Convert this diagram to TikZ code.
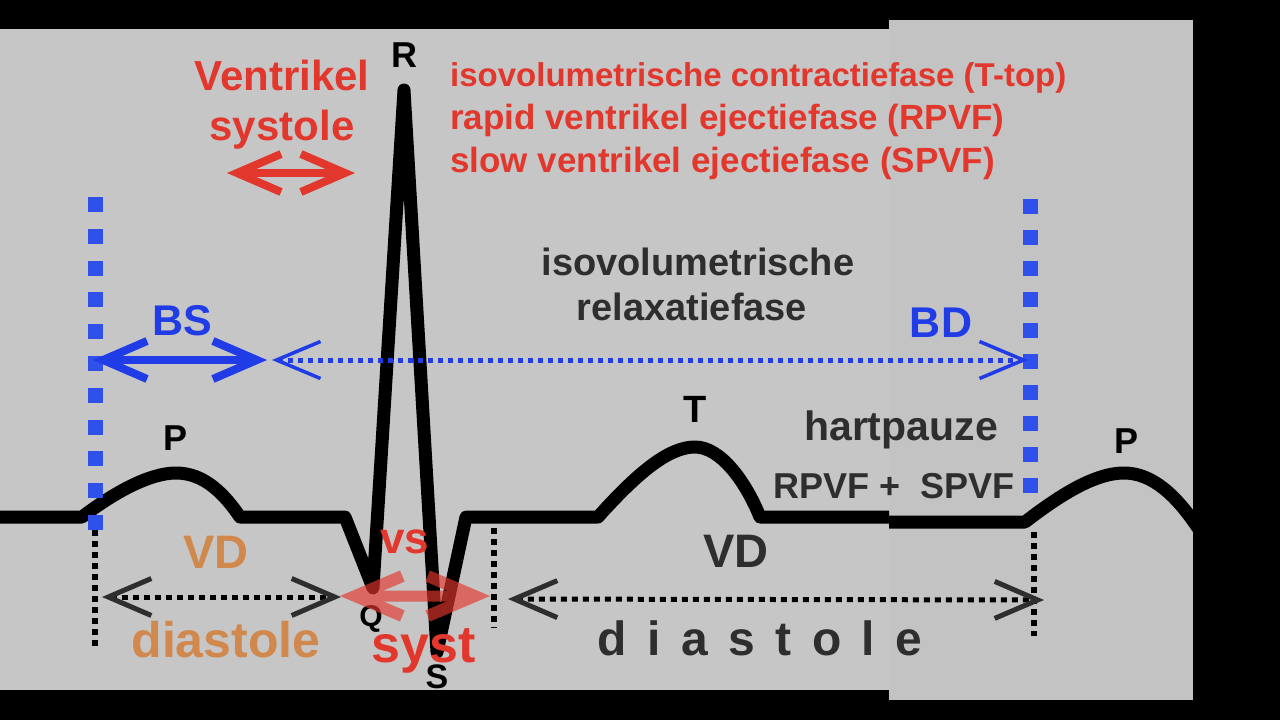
\documentclass[tikz,border=0pt]{standalone}
\usepackage{fontspec}
\setmainfont{Liberation Sans}
\usetikzlibrary{arrows.meta}
\definecolor{bggray}{HTML}{C6C6C6}
\definecolor{bggrayr}{HTML}{C3C3C3}
\definecolor{ecgred}{HTML}{E2372C}
\definecolor{ecgblue}{HTML}{1F3CE6}
\definecolor{dotblue}{HTML}{3050EC}
\definecolor{darktext}{HTML}{2E2E2E}
\definecolor{vdorange}{HTML}{D0884C}
\newcommand{\fsz}[1]{\fontsize{#1}{#1}\selectfont}

\begin{document}
\begin{tikzpicture}[x=1pt,y=-1pt,
	lbl/.style={anchor=base,inner sep=0pt,font=\bfseries\fsz{#1}},
	trace/.style={line width=13pt,line join=round},
	bigbarb/.tip={Straight Barb[sharp,length=44pt,width=38pt,line width=8pt]},
	thinbarb/.tip={Straight Barb[sharp,length=44pt,width=37pt,line width=3.5pt]},
	dotbarb/.tip={Straight Barb[sharp,length=43pt,width=37pt,line width=5pt,color=darktext]},
	sybarb/.tip={Straight Barb[sharp,length=47pt,width=40pt,line width=12pt]}]
	\useasboundingbox (0,0) rectangle (1280,720);
	\fill[black] (0,0) rectangle (1280,720);
	\fill[bggray] (0,29) rectangle (889,690);
	\fill[bggrayr] (889,20) rectangle (1193,700);

	\coordinate (p0) at (0,517);
	\coordinate (p1) at (82,517);
	\coordinate (Ptop) at (176,473);
	\coordinate (p2) at (240,517);
	\coordinate (q0) at (345,517);
	\coordinate (Qpt) at (373,588);
	\coordinate (Rpt) at (404,90);
	\coordinate (Spt) at (437,652);
	\coordinate (s0) at (466,517);
	\coordinate (t0) at (598,517);
	\coordinate (Ttop) at (695,447);
	\coordinate (t1) at (760,517);
	\coordinate (e0) at (889,517);
	\draw [trace] (p0) -- (p1) .. controls (115,492) and (150,473) .. (Ptop)
		.. controls (205,473) and (225,495) .. (p2) -- (q0) -- (Qpt) -- (Rpt) -- (Spt) -- (s0) -- (t0)
		.. controls (640,470) and (670,447) .. (Ttop) .. controls (720,447) and (745,480) .. (t1) -- (e0);
	\begin{scope}
		\clip (889,20) rectangle (1193,700);
		\coordinate (e1) at (889,522);
		\coordinate (p3) at (1025,522);
		\coordinate (P2top) at (1124,473);
		\coordinate (p4) at (1198,528);
		\draw [trace] (e1) -- (p3) .. controls (1060,495) and (1095,473) .. (P2top)
			.. controls (1152,473) and (1176,495) .. (p4);
	\end{scope}

	\node[lbl=42,ecgred] (vent) at (282,90) {Ventrikel};
	\node[lbl=42,ecgred] (syso) at (282,140) {systole};
	\node[lbl=36] (R) at (404,67) {R};
	\node[lbl=33,ecgred,anchor=base west] (iso) at (450,86) {isovolumetrische contractiefase (T-top)};
	\node[lbl=35,ecgred,anchor=base west] (rpvf) at (450,129) {rapid ventrikel ejectiefase (RPVF)};
	\node[lbl=35,ecgred,anchor=base west] (spvf) at (450,172) {slow ventrikel ejectiefase (SPVF)};
	\node[lbl=38,darktext] (isor) at (698,275) {isovolumetrische};
	\node[lbl=38,darktext] (relax) at (692,320) {relaxatiefase};
	\node[lbl=43,ecgblue] (BS) at (182,335) {BS};
	\node[lbl=43,ecgblue] (BD) at (941,337) {BD};
	\node[lbl=36] (P) at (176,450) {P};
	\node[lbl=38] (T) at (695,422) {T};
	\node[lbl=36] (P2) at (1126,453) {P};
	\node[lbl=41,darktext] (pauze) at (901,440) {hartpauze};
	\node[lbl=36,darktext] (ejec) at (894,498) {RPVF + \ SPVF};
	\node[lbl=47,vdorange] (VD1) at (216,568) {VD};
	\node[lbl=50,vdorange] (dia1) at (226,657) {diastole};
	\node[lbl=47,darktext] (VD2) at (736,567) {VD};
	\node[lbl=48,darktext] (dia2) at (760,655) {\spaceskip=20.5pt\relax d i a s t o l e};
	\node[lbl=30] (Q) at (371,626) {Q};
	\node[lbl=34] (S) at (437,688) {S};

	\coordinate (vsL) at (227,173);
	\coordinate (vsR) at (355,173);
	\draw [ecgred,line width=8pt,bigbarb-bigbarb] (vsL) -- (vsR);
	\coordinate (bsT) at (95,197);
	\coordinate (bsB) at (95,532);
	\draw [dotblue,line width=15pt,dash pattern=on 15pt off 16.8pt] (bsT) -- (bsB);
	\coordinate (bdT) at (1030,199);
	\coordinate (bdB) at (1030,494);
	\draw [dotblue,line width=15pt,dash pattern=on 15pt off 16pt] (bdT) -- (bdB);
	\coordinate (bsL) at (93,360);
	\coordinate (bsR) at (267,360);
	\draw [ecgblue,line width=8pt,bigbarb-bigbarb] (bsL) -- (bsR);
	\coordinate (bdL) at (272,360);
	\coordinate (bdR) at (1028,360);
	\draw [ecgblue,line width=5pt,dash pattern=on 5pt off 5pt,thinbarb-thinbarb] (bdL) -- (bdR);

	\coordinate (d1T) at (95,530);
	\coordinate (d1B) at (95,650);
	\coordinate (d2T) at (494,528);
	\coordinate (d2B) at (494,628);
	\coordinate (d3T) at (1034,532);
	\coordinate (d3B) at (1034,636);
	\draw [line width=6pt,dash pattern=on 6pt off 5pt] (d1T) -- (d1B);
	\draw [line width=6pt,dash pattern=on 6pt off 5pt] (d2T) -- (d2B);
	\draw [line width=6pt,dash pattern=on 6pt off 5pt] (d3T) -- (d3B);
	\coordinate (vdL) at (102,597);
	\coordinate (vdR) at (341,597);
	\draw [line width=5pt,dash pattern=on 6pt off 5pt,dotbarb-dotbarb] (vdL) -- (vdR);
	\coordinate (diaL) at (508,599);
	\coordinate (diaR) at (1044,600);
	\draw [line width=5pt,dash pattern=on 6pt off 5pt,dotbarb-dotbarb] (diaL) -- (diaR);

	\coordinate (syL) at (340,596);
	\coordinate (syR) at (490,596);
	\begin{scope}[transparency group,opacity=0.65]
		\draw [ecgred,line width=11pt,sybarb-sybarb] (syL) -- (syR);
	\end{scope}
	\node[lbl=44,ecgred] (vs) at (405,553) {vs};
	\node[lbl=52,ecgred] (systl) at (424,662) {syst};
\end{tikzpicture}
\end{document}
